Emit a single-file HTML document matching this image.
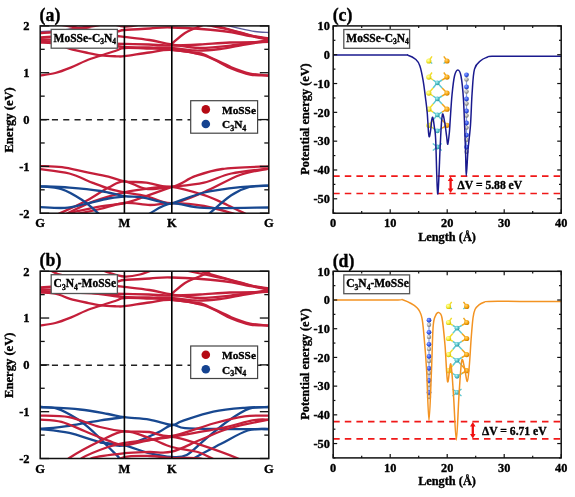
<!DOCTYPE html><html><head><meta charset="utf-8"><style>html,body{margin:0;padding:0;background:#fff;width:575px;height:497px;overflow:hidden}svg{display:block;will-change:transform}</style></head><body><svg width="575" height="497" viewBox="0 0 575 497">
<rect width="575" height="497" fill="#fff"/>
<defs>
<radialGradient id="gY" cx="0.38" cy="0.35" r="0.7"><stop offset="0" stop-color="#ffffb0"/><stop offset="0.55" stop-color="#f5ec38"/><stop offset="1" stop-color="#c8b800"/></radialGradient>
<radialGradient id="gO" cx="0.38" cy="0.35" r="0.7"><stop offset="0" stop-color="#ffd070"/><stop offset="0.55" stop-color="#f8a810"/><stop offset="1" stop-color="#c07400"/></radialGradient>
<radialGradient id="gT" cx="0.38" cy="0.35" r="0.7"><stop offset="0" stop-color="#b0f0f4"/><stop offset="0.55" stop-color="#50c0c8"/><stop offset="1" stop-color="#2a8a94"/></radialGradient>
<radialGradient id="gB" cx="0.38" cy="0.35" r="0.7"><stop offset="0" stop-color="#90a8ff"/><stop offset="0.55" stop-color="#3a5cf0"/><stop offset="1" stop-color="#1a30a0"/></radialGradient>
<radialGradient id="gC" cx="0.38" cy="0.35" r="0.7"><stop offset="0" stop-color="#f0f0f0"/><stop offset="0.55" stop-color="#a8a8a8"/><stop offset="1" stop-color="#6a6a6a"/></radialGradient>
</defs>
<clipPath id="p25"><rect x="40.2" y="25.9" width="228.6" height="187.3"/></clipPath>
<g clip-path="url(#p25)" fill="none" stroke-linecap="round">
<path d="M40.20,31.60 C43.50,31.42 53.37,31.18 60.00,30.50 C66.63,29.82 74.17,28.58 80.00,27.50 C85.83,26.42 90.83,25.25 95.00,24.00 C99.17,22.75 103.33,20.67 105.00,20.00" stroke="#5a5a9a" stroke-width="1.4"/>
<path d="M215.00,20.00 C216.17,20.67 217.83,22.58 222.00,24.00 C226.17,25.42 234.50,27.25 240.00,28.50 C245.50,29.75 250.20,30.83 255.00,31.50 C259.80,32.17 266.50,32.33 268.80,32.50" stroke="#5a5a9a" stroke-width="1.4"/>
<path d="M40.20,75.50 C42.72,75.08 50.23,74.32 55.30,73.00 C60.37,71.68 65.50,69.65 70.60,67.60 C75.70,65.55 80.80,62.73 85.90,60.70 C91.00,58.67 96.10,57.10 101.20,55.40 C106.30,53.70 112.63,51.73 116.50,50.50 C120.37,49.27 118.98,48.33 124.40,48.00 C129.82,47.67 141.10,48.25 149.00,48.50 C156.90,48.75 164.13,48.75 171.80,49.50 C179.47,50.25 189.60,52.15 195.00,53.00 C200.40,53.85 198.15,52.23 204.20,54.60 C210.25,56.97 223.67,64.05 231.30,67.20 C238.93,70.35 243.75,72.08 250.00,73.50 C256.25,74.92 265.67,75.33 268.80,75.70" stroke="#c41f3a" stroke-width="2.3"/>
<path d="M40.20,42.50 C42.17,42.58 48.70,42.58 52.00,43.00 C55.30,43.42 57.00,44.03 60.00,45.00 C63.00,45.97 65.68,47.55 70.00,48.80 C74.32,50.05 80.70,51.40 85.90,52.50 C91.10,53.60 96.10,54.77 101.20,55.40 C106.30,56.03 112.63,56.17 116.50,56.30 C120.37,56.43 118.93,56.83 124.40,56.20 C129.87,55.57 141.40,53.53 149.30,52.50 C157.20,51.47 162.65,49.50 171.80,50.00 C180.95,50.50 194.28,52.42 204.20,55.50 C214.12,58.58 223.67,65.33 231.30,68.50 C238.93,71.67 243.75,73.33 250.00,74.50 C256.25,75.67 265.67,75.33 268.80,75.50" stroke="#c41f3a" stroke-width="2.3"/>
<path d="M40.20,41.00 C45.17,41.25 60.03,42.08 70.00,42.50 C79.97,42.92 90.93,43.27 100.00,43.50 C109.07,43.73 116.23,43.73 124.40,43.90 C132.57,44.07 141.10,44.23 149.00,44.50 C156.90,44.77 163.30,45.50 171.80,45.50 C180.30,45.50 190.30,45.00 200.00,44.50 C209.70,44.00 218.53,42.93 230.00,42.50 C241.47,42.07 262.33,42.00 268.80,41.90" stroke="#c41f3a" stroke-width="2.3"/>
<path d="M40.20,39.20 C45.17,39.42 60.03,39.70 70.00,40.50 C79.97,41.30 90.93,42.92 100.00,44.00 C109.07,45.08 116.23,46.42 124.40,47.00 C132.57,47.58 141.10,47.37 149.00,47.50 C156.90,47.63 164.13,47.30 171.80,47.80 C179.47,48.30 186.97,50.30 195.00,50.50 C203.03,50.70 211.67,50.00 220.00,49.00 C228.33,48.00 236.87,45.83 245.00,44.50 C253.13,43.17 264.83,41.58 268.80,41.00" stroke="#c41f3a" stroke-width="2.3"/>
<path d="M40.20,37.40 C45.17,37.08 60.03,36.23 70.00,35.50 C79.97,34.77 92.17,33.67 100.00,33.00 C107.83,32.33 112.93,32.00 117.00,31.50 C121.07,31.00 118.90,30.50 124.40,30.00 C129.90,29.50 142.10,28.92 150.00,28.50 C157.90,28.08 159.75,27.08 171.80,27.50 C183.85,27.92 209.27,29.58 222.30,31.00 C235.33,32.42 242.25,34.58 250.00,36.00 C257.75,37.42 265.67,38.92 268.80,39.50" stroke="#c41f3a" stroke-width="2.3"/>
<path d="M45.00,17.00 C47.17,18.17 52.17,22.17 58.00,24.00 C63.83,25.83 72.17,26.50 80.00,28.00 C87.83,29.50 98.83,31.67 105.00,33.00 C111.17,34.33 113.77,35.35 117.00,36.00 C120.23,36.65 119.02,36.23 124.40,36.90 C129.78,37.57 141.40,38.73 149.30,40.00 C157.20,41.27 163.35,43.17 171.80,44.50 C180.25,45.83 189.47,47.92 200.00,48.00 C210.53,48.08 223.53,46.33 235.00,45.00 C246.47,43.67 263.17,40.83 268.80,40.00" stroke="#c41f3a" stroke-width="2.3"/>
<path d="M40.20,33.00 C43.50,32.75 53.37,32.33 60.00,31.50 C66.63,30.67 73.33,29.08 80.00,28.00 C86.67,26.92 94.67,26.50 100.00,25.00 C105.33,23.50 110.00,20.00 112.00,19.00" stroke="#c41f3a" stroke-width="2.3"/>
<path d="M171.80,43.70 C174.00,41.92 181.12,35.57 185.00,33.00 C188.88,30.43 191.77,29.80 195.10,28.30 C198.43,26.80 202.18,25.38 205.00,24.00 C207.82,22.62 210.83,20.67 212.00,20.00" stroke="#c41f3a" stroke-width="2.3"/>
<path d="M175.00,18.00 C179.17,18.92 190.83,21.50 200.00,23.50 C209.17,25.50 221.67,28.00 230.00,30.00 C238.33,32.00 243.53,34.08 250.00,35.50 C256.47,36.92 265.67,38.00 268.80,38.50" stroke="#c41f3a" stroke-width="2.3"/>
<path d="M190.00,18.00 C193.33,19.00 202.50,21.83 210.00,24.00 C217.50,26.17 227.50,28.92 235.00,31.00 C242.50,33.08 249.37,35.17 255.00,36.50 C260.63,37.83 266.50,38.58 268.80,39.00" stroke="#c41f3a" stroke-width="2.3"/>
<path d="M95.00,17.00 C97.50,18.00 105.10,21.42 110.00,23.00 C114.90,24.58 119.40,26.25 124.40,26.50 C129.40,26.75 134.90,25.75 140.00,24.50 C145.10,23.25 152.50,19.92 155.00,19.00" stroke="#c41f3a" stroke-width="2.3"/>
<path d="M40.20,166.10 C43.83,166.28 54.53,166.23 62.00,167.20 C69.47,168.17 77.27,170.33 85.00,171.90 C92.73,173.47 101.83,175.03 108.40,176.60 C114.97,178.17 118.10,180.30 124.40,181.30 C130.70,182.30 138.30,181.68 146.20,182.60 C154.10,183.52 163.65,187.87 171.80,186.80 C179.95,185.73 186.68,179.17 195.10,176.20 C203.52,173.23 210.02,170.65 222.30,169.00 C234.58,167.35 261.05,166.75 268.80,166.30" stroke="#c41f3a" stroke-width="2.3"/>
<path d="M40.20,169.10 C45.05,169.83 60.53,171.20 69.30,173.50 C78.07,175.80 86.02,180.30 92.80,182.90 C99.58,185.50 104.73,187.53 110.00,189.10 C115.27,190.67 118.37,191.15 124.40,192.30 C130.43,193.45 138.30,194.18 146.20,196.00 C154.10,197.82 162.13,203.87 171.80,203.20 C181.47,202.53 192.83,196.70 204.20,192.00 C215.57,187.30 229.23,178.90 240.00,175.00 C250.77,171.10 264.00,169.67 268.80,168.60" stroke="#c41f3a" stroke-width="2.3"/>
<path d="M58.30,214.00 C62.75,211.93 76.65,206.00 85.00,201.60 C93.35,197.20 101.83,190.98 108.40,187.60 C114.97,184.22 118.10,181.10 124.40,181.30 C130.70,181.50 138.30,187.88 146.20,188.80 C154.10,189.72 162.17,187.83 171.80,186.80 C181.43,185.77 194.08,184.82 204.00,182.60 C213.92,180.38 220.50,175.83 231.30,173.50 C242.10,171.17 262.55,169.42 268.80,168.60" stroke="#c41f3a" stroke-width="2.3"/>
<path d="M66.20,214.00 C70.63,211.93 83.10,205.22 92.80,201.60 C102.50,197.98 115.50,194.43 124.40,192.30 C133.30,190.17 138.30,189.72 146.20,188.80 C154.10,187.88 162.13,185.73 171.80,186.80 C181.47,187.87 194.88,192.13 204.20,195.20 C213.52,198.27 220.77,202.07 227.70,205.20 C234.63,208.33 242.78,212.53 245.80,214.00" stroke="#c41f3a" stroke-width="2.3"/>
<path d="M69.30,213.00 C74.52,211.88 91.42,207.93 100.60,206.30 C109.78,204.67 116.80,204.92 124.40,203.20 C132.00,201.48 138.30,198.73 146.20,196.00 C154.10,193.27 167.53,188.33 171.80,186.80" stroke="#c41f3a" stroke-width="2.3"/>
<path d="M77.00,214.00 C80.83,213.17 92.10,210.83 100.00,209.00 C107.90,207.17 116.07,203.67 124.40,203.00 C132.73,202.33 142.10,204.97 150.00,205.00 C157.90,205.03 162.80,203.03 171.80,203.20 C180.80,203.37 193.47,204.20 204.00,206.00 C214.53,207.80 229.83,212.67 235.00,214.00" stroke="#c41f3a" stroke-width="2.3"/>
<path d="M40.20,186.30 C45.05,186.52 59.23,186.82 69.30,187.60 C79.37,188.38 91.42,189.57 100.60,191.00 C109.78,192.43 117.73,195.17 124.40,196.20 C131.07,197.23 134.15,196.18 140.60,197.20 C147.05,198.22 157.90,201.27 163.10,202.30 C168.30,203.33 164.95,205.03 171.80,203.40 C178.65,201.77 192.78,195.22 204.20,192.50 C215.62,189.78 229.53,188.25 240.30,187.10 C251.07,185.95 264.05,185.85 268.80,185.60" stroke="#184890" stroke-width="2.3"/>
<path d="M40.20,186.30 C43.75,186.77 54.57,186.85 61.50,189.10 C68.43,191.35 75.80,195.88 81.80,199.80 C87.80,203.72 94.13,209.57 97.50,212.60 C100.87,215.63 101.25,217.10 102.00,218.00" stroke="#184890" stroke-width="2.3"/>
<path d="M40.20,207.10 C44.33,207.23 57.53,208.42 65.00,207.90 C72.47,207.38 77.77,205.57 85.00,204.00 C92.23,202.43 101.83,199.73 108.40,198.50 C114.97,197.27 121.73,196.92 124.40,196.60" stroke="#184890" stroke-width="2.3"/>
<path d="M145.00,218.00 C145.95,217.17 146.23,215.43 150.70,213.00 C155.17,210.57 162.88,204.25 171.80,203.40 C180.72,202.55 188.03,207.22 204.20,207.90 C220.37,208.58 258.03,207.57 268.80,207.50" stroke="#184890" stroke-width="2.3"/>
<path d="M205.00,218.00 C205.77,217.22 205.22,217.10 209.60,213.30 C213.98,209.50 224.67,199.58 231.30,195.20 C237.93,190.82 243.15,188.60 249.40,187.00 C255.65,185.40 265.57,185.83 268.80,185.60" stroke="#184890" stroke-width="2.3"/>
</g>
<line x1="40.6" y1="119.86" x2="268.8" y2="119.86" stroke="#222" stroke-width="1.5" stroke-dasharray="6.1,5.2"/>
<line x1="124.4" y1="25.9" x2="124.4" y2="213.2" stroke="#000" stroke-width="1.6"/>
<line x1="171.8" y1="25.9" x2="171.8" y2="213.2" stroke="#000" stroke-width="1.6"/>
<line x1="40.2" y1="25.90" x2="49.2" y2="25.90" stroke="#111" stroke-width="1.3"/>
<line x1="259.8" y1="25.90" x2="268.8" y2="25.90" stroke="#111" stroke-width="1.3"/>
<line x1="40.2" y1="49.31" x2="44.7" y2="49.31" stroke="#111" stroke-width="1.3"/>
<line x1="264.3" y1="49.31" x2="268.8" y2="49.31" stroke="#111" stroke-width="1.3"/>
<line x1="40.2" y1="72.73" x2="49.2" y2="72.73" stroke="#111" stroke-width="1.3"/>
<line x1="259.8" y1="72.73" x2="268.8" y2="72.73" stroke="#111" stroke-width="1.3"/>
<line x1="40.2" y1="96.15" x2="44.7" y2="96.15" stroke="#111" stroke-width="1.3"/>
<line x1="264.3" y1="96.15" x2="268.8" y2="96.15" stroke="#111" stroke-width="1.3"/>
<line x1="40.2" y1="119.56" x2="49.2" y2="119.56" stroke="#111" stroke-width="1.3"/>
<line x1="259.8" y1="119.56" x2="268.8" y2="119.56" stroke="#111" stroke-width="1.3"/>
<line x1="40.2" y1="142.97" x2="44.7" y2="142.97" stroke="#111" stroke-width="1.3"/>
<line x1="264.3" y1="142.97" x2="268.8" y2="142.97" stroke="#111" stroke-width="1.3"/>
<line x1="40.2" y1="166.39" x2="49.2" y2="166.39" stroke="#111" stroke-width="1.3"/>
<line x1="259.8" y1="166.39" x2="268.8" y2="166.39" stroke="#111" stroke-width="1.3"/>
<line x1="40.2" y1="189.81" x2="44.7" y2="189.81" stroke="#111" stroke-width="1.3"/>
<line x1="264.3" y1="189.81" x2="268.8" y2="189.81" stroke="#111" stroke-width="1.3"/>
<line x1="40.2" y1="213.22" x2="49.2" y2="213.22" stroke="#111" stroke-width="1.3"/>
<line x1="259.8" y1="213.22" x2="268.8" y2="213.22" stroke="#111" stroke-width="1.3"/>
<rect x="40.2" y="25.9" width="228.6" height="187.3" fill="none" stroke="#111" stroke-width="1.5"/>
<text x="29.6" y="30.30" font-family="Liberation Serif" font-weight="bold" stroke="#000" stroke-width="0.35" font-size="12.5" text-anchor="end">2</text>
<text x="29.6" y="77.13" font-family="Liberation Serif" font-weight="bold" stroke="#000" stroke-width="0.35" font-size="12.5" text-anchor="end">1</text>
<text x="29.6" y="123.96" font-family="Liberation Serif" font-weight="bold" stroke="#000" stroke-width="0.35" font-size="12.5" text-anchor="end">0</text>
<text x="29.6" y="170.79" font-family="Liberation Serif" font-weight="bold" stroke="#000" stroke-width="0.35" font-size="12.5" text-anchor="end">-1</text>
<text x="29.6" y="217.62" font-family="Liberation Serif" font-weight="bold" stroke="#000" stroke-width="0.35" font-size="12.5" text-anchor="end">-2</text>
<text x="40.2" y="227.4" font-family="Liberation Serif" font-weight="bold" stroke="#000" stroke-width="0.35" font-size="12.5" text-anchor="middle">G</text>
<text x="124.4" y="227.4" font-family="Liberation Serif" font-weight="bold" stroke="#000" stroke-width="0.35" font-size="12.5" text-anchor="middle">M</text>
<text x="171.8" y="227.4" font-family="Liberation Serif" font-weight="bold" stroke="#000" stroke-width="0.35" font-size="12.5" text-anchor="middle">K</text>
<text x="268.8" y="227.4" font-family="Liberation Serif" font-weight="bold" stroke="#000" stroke-width="0.35" font-size="12.5" text-anchor="middle">G</text>
<text x="39.6" y="20.9" font-family="Liberation Serif" font-weight="bold" stroke="#000" stroke-width="0.35" font-size="17.8">(a)</text>
<text transform="translate(12.6,119.9) rotate(-90)" font-family="Liberation Serif" font-weight="bold" stroke="#000" stroke-width="0.35" font-size="12.6" text-anchor="middle">Energy (eV)</text>
<rect x="51.2" y="29.4" width="66.2" height="18.8" fill="#fff" stroke="#555" stroke-width="1.3"/>
<text x="53.6" y="41.7" font-family="Liberation Serif" font-weight="bold" stroke="#000" stroke-width="0.35" font-size="11.5">MoSSe-C<tspan font-size="7.5" dy="2.6">3</tspan><tspan dy="-2.6">N</tspan><tspan font-size="7.5" dy="2.6">4</tspan></text>
<rect x="190.7" y="100.7" width="66.9" height="32.5" fill="#fff" stroke="#444" stroke-width="1.2"/>
<circle cx="205.8" cy="109.4" r="4.3" fill="#b50a14"/>
<circle cx="205.8" cy="124.0" r="4.3" fill="#154390"/>
<text x="222" y="113.5" font-family="Liberation Serif" font-weight="bold" stroke="#000" stroke-width="0.35" font-size="11.3">MoSSe</text>
<text x="222" y="128.3" font-family="Liberation Serif" font-weight="bold" stroke="#000" stroke-width="0.35" font-size="11.3">C<tspan font-size="8" dy="2.5">3</tspan><tspan dy="-2.5">N</tspan><tspan font-size="8" dy="2.5">4</tspan></text>
<clipPath id="p271"><rect x="40.2" y="271.2" width="228.6" height="187.3"/></clipPath>
<g clip-path="url(#p271)" fill="none" stroke-linecap="round">
<path d="M40.20,325.50 C42.72,325.08 50.23,324.32 55.30,323.00 C60.37,321.68 65.50,319.65 70.60,317.60 C75.70,315.55 80.80,312.73 85.90,310.70 C91.00,308.67 96.10,307.10 101.20,305.40 C106.30,303.70 112.63,301.73 116.50,300.50 C120.37,299.27 118.98,298.33 124.40,298.00 C129.82,297.67 141.10,298.25 149.00,298.50 C156.90,298.75 164.13,298.75 171.80,299.50 C179.47,300.25 189.60,302.15 195.00,303.00 C200.40,303.85 198.15,302.23 204.20,304.60 C210.25,306.97 223.67,314.05 231.30,317.20 C238.93,320.35 243.75,322.08 250.00,323.50 C256.25,324.92 265.67,325.33 268.80,325.70" stroke="#c41f3a" stroke-width="2.3"/>
<path d="M40.20,292.50 C42.17,292.58 48.70,292.58 52.00,293.00 C55.30,293.42 57.00,294.03 60.00,295.00 C63.00,295.97 65.68,297.55 70.00,298.80 C74.32,300.05 80.70,301.40 85.90,302.50 C91.10,303.60 96.10,304.77 101.20,305.40 C106.30,306.03 112.63,306.17 116.50,306.30 C120.37,306.43 118.93,306.83 124.40,306.20 C129.87,305.57 141.40,303.53 149.30,302.50 C157.20,301.47 162.65,299.50 171.80,300.00 C180.95,300.50 194.28,302.42 204.20,305.50 C214.12,308.58 223.67,315.33 231.30,318.50 C238.93,321.67 243.75,323.33 250.00,324.50 C256.25,325.67 265.67,325.33 268.80,325.50" stroke="#c41f3a" stroke-width="2.3"/>
<path d="M40.20,291.00 C45.17,291.25 60.03,292.08 70.00,292.50 C79.97,292.92 90.93,293.27 100.00,293.50 C109.07,293.73 116.23,293.73 124.40,293.90 C132.57,294.07 141.10,294.23 149.00,294.50 C156.90,294.77 163.30,295.50 171.80,295.50 C180.30,295.50 190.30,295.00 200.00,294.50 C209.70,294.00 218.53,292.93 230.00,292.50 C241.47,292.07 262.33,292.00 268.80,291.90" stroke="#c41f3a" stroke-width="2.3"/>
<path d="M40.20,289.20 C45.17,289.42 60.03,289.70 70.00,290.50 C79.97,291.30 90.93,292.92 100.00,294.00 C109.07,295.08 116.23,296.42 124.40,297.00 C132.57,297.58 141.10,297.37 149.00,297.50 C156.90,297.63 164.13,297.30 171.80,297.80 C179.47,298.30 186.97,300.30 195.00,300.50 C203.03,300.70 211.67,300.00 220.00,299.00 C228.33,298.00 236.87,295.83 245.00,294.50 C253.13,293.17 264.83,291.58 268.80,291.00" stroke="#c41f3a" stroke-width="2.3"/>
<path d="M40.20,287.40 C45.17,287.08 60.03,286.23 70.00,285.50 C79.97,284.77 92.17,283.67 100.00,283.00 C107.83,282.33 112.93,282.00 117.00,281.50 C121.07,281.00 118.90,280.50 124.40,280.00 C129.90,279.50 142.10,278.92 150.00,278.50 C157.90,278.08 159.75,277.08 171.80,277.50 C183.85,277.92 209.27,279.58 222.30,281.00 C235.33,282.42 242.25,284.58 250.00,286.00 C257.75,287.42 265.67,288.92 268.80,289.50" stroke="#c41f3a" stroke-width="2.3"/>
<path d="M45.00,267.00 C47.17,268.17 52.17,272.17 58.00,274.00 C63.83,275.83 72.17,276.50 80.00,278.00 C87.83,279.50 98.83,281.67 105.00,283.00 C111.17,284.33 113.77,285.35 117.00,286.00 C120.23,286.65 119.02,286.23 124.40,286.90 C129.78,287.57 141.40,288.73 149.30,290.00 C157.20,291.27 163.35,293.17 171.80,294.50 C180.25,295.83 189.47,297.92 200.00,298.00 C210.53,298.08 223.53,296.33 235.00,295.00 C246.47,293.67 263.17,290.83 268.80,290.00" stroke="#c41f3a" stroke-width="2.3"/>
<path d="M171.80,293.70 C174.00,291.92 181.12,285.57 185.00,283.00 C188.88,280.43 191.77,279.80 195.10,278.30 C198.43,276.80 202.18,275.38 205.00,274.00 C207.82,272.62 210.83,270.67 212.00,270.00" stroke="#c41f3a" stroke-width="2.3"/>
<path d="M175.00,268.00 C179.17,268.92 190.83,271.50 200.00,273.50 C209.17,275.50 221.67,278.00 230.00,280.00 C238.33,282.00 243.53,284.08 250.00,285.50 C256.47,286.92 265.67,288.00 268.80,288.50" stroke="#c41f3a" stroke-width="2.3"/>
<path d="M190.00,268.00 C193.33,269.00 202.50,271.83 210.00,274.00 C217.50,276.17 227.50,278.92 235.00,281.00 C242.50,283.08 249.37,285.17 255.00,286.50 C260.63,287.83 266.50,288.58 268.80,289.00" stroke="#c41f3a" stroke-width="2.3"/>
<path d="M95.00,267.00 C97.50,268.00 105.10,271.42 110.00,273.00 C114.90,274.58 119.40,276.25 124.40,276.50 C129.40,276.75 134.90,275.75 140.00,274.50 C145.10,273.25 152.50,269.92 155.00,269.00" stroke="#c41f3a" stroke-width="2.3"/>
<path d="M40.20,407.00 C46.83,407.42 68.70,408.33 80.00,409.50 C91.30,410.67 100.60,412.72 108.00,414.00 C115.40,415.28 117.52,416.27 124.40,417.20 C131.28,418.13 141.40,418.30 149.30,419.60 C157.20,420.90 166.35,424.75 171.80,425.00 C177.25,425.25 175.08,423.32 182.00,421.10 C188.92,418.88 202.87,413.92 213.30,411.70 C223.73,409.48 235.35,408.58 244.60,407.80 C253.85,407.02 264.77,407.13 268.80,407.00" stroke="#184890" stroke-width="2.3"/>
<path d="M40.20,407.00 C43.00,407.27 50.87,406.63 57.00,408.60 C63.13,410.57 71.03,415.02 77.00,418.80 C82.97,422.58 87.57,426.60 92.80,431.30 C98.03,436.00 103.97,442.55 108.40,447.00 C112.83,451.45 117.13,455.50 119.40,458.00 C121.67,460.50 121.57,461.33 122.00,462.00" stroke="#184890" stroke-width="2.3"/>
<path d="M40.20,429.00 C45.05,428.47 59.23,427.25 69.30,425.80 C79.37,424.35 91.42,421.73 100.60,420.30 C109.78,418.87 120.43,417.72 124.40,417.20" stroke="#184890" stroke-width="2.3"/>
<path d="M40.20,429.00 C45.05,429.65 59.23,430.68 69.30,432.90 C79.37,435.12 91.42,440.22 100.60,442.30 C109.78,444.38 114.98,446.97 124.40,445.40 C133.82,443.83 149.20,436.30 157.10,432.90 C165.00,429.50 167.15,425.78 171.80,425.00 C176.45,424.22 176.97,427.53 185.00,428.20 C193.03,428.87 206.03,428.87 220.00,429.00 C233.97,429.13 260.67,429.00 268.80,429.00" stroke="#184890" stroke-width="2.3"/>
<path d="M100.60,442.30 C104.57,442.82 116.28,443.58 124.40,445.40 C132.52,447.22 141.40,451.27 149.30,453.20 C157.20,455.13 165.57,456.70 171.80,457.00 C178.03,457.30 181.08,457.98 186.70,455.00 C192.32,452.02 198.45,444.88 205.50,439.10 C212.55,433.32 221.70,425.38 229.00,420.30 C236.30,415.22 242.67,410.82 249.30,408.60 C255.93,406.38 265.55,407.27 268.80,407.00" stroke="#184890" stroke-width="2.3"/>
<path d="M188.00,466.00 C189.08,464.67 188.98,461.70 194.50,458.00 C200.02,454.30 212.23,448.38 221.10,443.80 C229.97,439.22 239.75,432.97 247.70,430.50 C255.65,428.03 265.28,429.25 268.80,429.00" stroke="#184890" stroke-width="2.3"/>
<path d="M40.20,415.60 C45.00,415.87 59.03,415.30 69.00,417.20 C78.97,419.10 90.77,424.65 100.00,427.00 C109.23,429.35 116.18,430.47 124.40,431.30 C132.62,432.13 141.40,431.22 149.30,432.00 C157.20,432.78 161.13,437.42 171.80,436.00 C182.47,434.58 201.17,426.77 213.30,423.50 C225.43,420.23 235.35,417.72 244.60,416.40 C253.85,415.08 264.77,415.73 268.80,415.60" stroke="#c41f3a" stroke-width="2.3"/>
<path d="M40.20,419.60 C43.75,419.98 54.03,419.95 61.50,421.90 C68.97,423.85 77.18,428.17 85.00,431.30 C92.82,434.43 101.83,438.42 108.40,440.70 C114.97,442.98 117.47,445.12 124.40,445.00 C131.33,444.88 142.10,441.37 150.00,440.00 C157.90,438.63 159.95,438.77 171.80,436.80 C183.65,434.83 207.67,430.95 221.10,428.20 C234.53,425.45 244.45,421.73 252.40,420.30 C260.35,418.87 266.07,419.72 268.80,419.60" stroke="#c41f3a" stroke-width="2.3"/>
<path d="M64.00,466.00 C64.88,464.67 63.20,462.22 69.30,458.00 C75.40,453.78 91.42,445.15 100.60,440.70 C109.78,436.25 116.28,431.75 124.40,431.30 C132.52,430.85 141.40,435.38 149.30,438.00 C157.20,440.62 163.73,444.67 171.80,447.00 C179.87,449.33 190.50,449.83 197.70,452.00 C204.90,454.17 212.12,458.67 215.00,460.00" stroke="#c41f3a" stroke-width="2.3"/>
<path d="M76.00,466.00 C77.00,464.67 76.67,461.17 82.00,458.00 C87.33,454.83 100.93,449.50 108.00,447.00 C115.07,444.50 117.52,444.17 124.40,443.00 C131.28,441.83 141.40,441.03 149.30,440.00 C157.20,438.97 163.73,436.17 171.80,436.80 C179.87,437.43 186.87,440.27 197.70,443.80 C208.53,447.33 229.75,454.97 236.80,458.00 C243.85,461.03 239.47,461.33 240.00,462.00" stroke="#c41f3a" stroke-width="2.3"/>
<path d="M85.00,466.00 C86.17,464.67 85.43,460.13 92.00,458.00 C98.57,455.87 114.90,454.20 124.40,453.20 C133.90,452.20 141.10,452.25 149.00,452.00 C156.90,451.75 163.30,453.70 171.80,451.70 C180.30,449.70 190.30,443.95 200.00,440.00 C209.70,436.05 218.53,431.40 230.00,428.00 C241.47,424.60 262.33,421.00 268.80,419.60" stroke="#c41f3a" stroke-width="2.3"/>
<path d="M105.00,466.00 C108.23,464.50 116.90,458.67 124.40,457.00 C131.90,455.33 142.10,455.83 150.00,456.00 C157.90,456.17 163.47,457.58 171.80,458.00 C180.13,458.42 191.97,457.17 200.00,458.50 C208.03,459.83 216.67,464.75 220.00,466.00" stroke="#c41f3a" stroke-width="2.3"/>
</g>
<line x1="40.6" y1="365.16" x2="268.8" y2="365.16" stroke="#222" stroke-width="1.5" stroke-dasharray="6.1,5.2"/>
<line x1="124.4" y1="271.2" x2="124.4" y2="458.5" stroke="#000" stroke-width="1.6"/>
<line x1="171.8" y1="271.2" x2="171.8" y2="458.5" stroke="#000" stroke-width="1.6"/>
<line x1="40.2" y1="271.20" x2="49.2" y2="271.20" stroke="#111" stroke-width="1.3"/>
<line x1="259.8" y1="271.20" x2="268.8" y2="271.20" stroke="#111" stroke-width="1.3"/>
<line x1="40.2" y1="294.62" x2="44.7" y2="294.62" stroke="#111" stroke-width="1.3"/>
<line x1="264.3" y1="294.62" x2="268.8" y2="294.62" stroke="#111" stroke-width="1.3"/>
<line x1="40.2" y1="318.03" x2="49.2" y2="318.03" stroke="#111" stroke-width="1.3"/>
<line x1="259.8" y1="318.03" x2="268.8" y2="318.03" stroke="#111" stroke-width="1.3"/>
<line x1="40.2" y1="341.44" x2="44.7" y2="341.44" stroke="#111" stroke-width="1.3"/>
<line x1="264.3" y1="341.44" x2="268.8" y2="341.44" stroke="#111" stroke-width="1.3"/>
<line x1="40.2" y1="364.86" x2="49.2" y2="364.86" stroke="#111" stroke-width="1.3"/>
<line x1="259.8" y1="364.86" x2="268.8" y2="364.86" stroke="#111" stroke-width="1.3"/>
<line x1="40.2" y1="388.27" x2="44.7" y2="388.27" stroke="#111" stroke-width="1.3"/>
<line x1="264.3" y1="388.27" x2="268.8" y2="388.27" stroke="#111" stroke-width="1.3"/>
<line x1="40.2" y1="411.69" x2="49.2" y2="411.69" stroke="#111" stroke-width="1.3"/>
<line x1="259.8" y1="411.69" x2="268.8" y2="411.69" stroke="#111" stroke-width="1.3"/>
<line x1="40.2" y1="435.11" x2="44.7" y2="435.11" stroke="#111" stroke-width="1.3"/>
<line x1="264.3" y1="435.11" x2="268.8" y2="435.11" stroke="#111" stroke-width="1.3"/>
<line x1="40.2" y1="458.52" x2="49.2" y2="458.52" stroke="#111" stroke-width="1.3"/>
<line x1="259.8" y1="458.52" x2="268.8" y2="458.52" stroke="#111" stroke-width="1.3"/>
<rect x="40.2" y="271.2" width="228.6" height="187.3" fill="none" stroke="#111" stroke-width="1.5"/>
<text x="29.6" y="275.60" font-family="Liberation Serif" font-weight="bold" stroke="#000" stroke-width="0.35" font-size="12.5" text-anchor="end">2</text>
<text x="29.6" y="322.43" font-family="Liberation Serif" font-weight="bold" stroke="#000" stroke-width="0.35" font-size="12.5" text-anchor="end">1</text>
<text x="29.6" y="369.26" font-family="Liberation Serif" font-weight="bold" stroke="#000" stroke-width="0.35" font-size="12.5" text-anchor="end">0</text>
<text x="29.6" y="416.09" font-family="Liberation Serif" font-weight="bold" stroke="#000" stroke-width="0.35" font-size="12.5" text-anchor="end">-1</text>
<text x="29.6" y="462.92" font-family="Liberation Serif" font-weight="bold" stroke="#000" stroke-width="0.35" font-size="12.5" text-anchor="end">-2</text>
<text x="40.2" y="472.7" font-family="Liberation Serif" font-weight="bold" stroke="#000" stroke-width="0.35" font-size="12.5" text-anchor="middle">G</text>
<text x="124.4" y="472.7" font-family="Liberation Serif" font-weight="bold" stroke="#000" stroke-width="0.35" font-size="12.5" text-anchor="middle">M</text>
<text x="171.8" y="472.7" font-family="Liberation Serif" font-weight="bold" stroke="#000" stroke-width="0.35" font-size="12.5" text-anchor="middle">K</text>
<text x="268.8" y="472.7" font-family="Liberation Serif" font-weight="bold" stroke="#000" stroke-width="0.35" font-size="12.5" text-anchor="middle">G</text>
<text x="39.6" y="266.2" font-family="Liberation Serif" font-weight="bold" stroke="#000" stroke-width="0.35" font-size="17.8">(b)</text>
<text transform="translate(12.6,365.2) rotate(-90)" font-family="Liberation Serif" font-weight="bold" stroke="#000" stroke-width="0.35" font-size="12.6" text-anchor="middle">Energy (eV)</text>
<rect x="51.2" y="274.7" width="66.2" height="18.8" fill="#fff" stroke="#555" stroke-width="1.3"/>
<text x="53.6" y="287.0" font-family="Liberation Serif" font-weight="bold" stroke="#000" stroke-width="0.35" font-size="11.5">C<tspan font-size="7.5" dy="2.6">3</tspan><tspan dy="-2.6">N</tspan><tspan font-size="7.5" dy="2.6">4</tspan><tspan dy="-2.6">-MoSSe</tspan></text>
<rect x="190.7" y="346.0" width="66.9" height="32.5" fill="#fff" stroke="#444" stroke-width="1.2"/>
<circle cx="205.8" cy="354.7" r="4.3" fill="#b50a14"/>
<circle cx="205.8" cy="369.3" r="4.3" fill="#154390"/>
<text x="222" y="358.8" font-family="Liberation Serif" font-weight="bold" stroke="#000" stroke-width="0.35" font-size="11.3">MoSSe</text>
<text x="222" y="373.6" font-family="Liberation Serif" font-weight="bold" stroke="#000" stroke-width="0.35" font-size="11.3">C<tspan font-size="8" dy="2.5">3</tspan><tspan dy="-2.5">N</tspan><tspan font-size="8" dy="2.5">4</tspan></text>
<line x1="333.2" y1="176.20" x2="561.2" y2="176.20" stroke="#f01818" stroke-width="1.7" stroke-dasharray="6.5,5.1"/>
<line x1="333.2" y1="193.50" x2="561.2" y2="193.50" stroke="#f01818" stroke-width="1.7" stroke-dasharray="6.5,5.1"/>
<line x1="437.3" y1="82.8" x2="433.1" y2="80.0" stroke="#5cc8d0" stroke-width="1.5"/><line x1="433.1" y1="80.0" x2="428.8" y2="77.1" stroke="#f2dc2a" stroke-width="1.5"/><line x1="437.3" y1="82.8" x2="442.1" y2="80.0" stroke="#5cc8d0" stroke-width="1.5"/><line x1="442.1" y1="80.0" x2="447.0" y2="77.1" stroke="#f0a418" stroke-width="1.5"/><line x1="437.3" y1="82.8" x2="433.1" y2="88.0" stroke="#5cc8d0" stroke-width="1.5"/><line x1="433.1" y1="88.0" x2="428.8" y2="93.1" stroke="#f2dc2a" stroke-width="1.5"/><line x1="437.3" y1="82.8" x2="442.1" y2="88.0" stroke="#5cc8d0" stroke-width="1.5"/><line x1="442.1" y1="88.0" x2="447.0" y2="93.1" stroke="#f0a418" stroke-width="1.5"/><line x1="437.3" y1="98.9" x2="433.1" y2="96.0" stroke="#5cc8d0" stroke-width="1.5"/><line x1="433.1" y1="96.0" x2="428.8" y2="93.1" stroke="#f2dc2a" stroke-width="1.5"/><line x1="437.3" y1="98.9" x2="442.1" y2="96.0" stroke="#5cc8d0" stroke-width="1.5"/><line x1="442.1" y1="96.0" x2="447.0" y2="93.1" stroke="#f0a418" stroke-width="1.5"/><line x1="437.3" y1="98.9" x2="433.1" y2="104.1" stroke="#5cc8d0" stroke-width="1.5"/><line x1="433.1" y1="104.1" x2="428.8" y2="109.2" stroke="#f2dc2a" stroke-width="1.5"/><line x1="437.3" y1="98.9" x2="442.1" y2="104.1" stroke="#5cc8d0" stroke-width="1.5"/><line x1="442.1" y1="104.1" x2="447.0" y2="109.2" stroke="#f0a418" stroke-width="1.5"/><line x1="437.3" y1="114.9" x2="433.1" y2="112.1" stroke="#5cc8d0" stroke-width="1.5"/><line x1="433.1" y1="112.1" x2="428.8" y2="109.2" stroke="#f2dc2a" stroke-width="1.5"/><line x1="437.3" y1="114.9" x2="442.1" y2="112.1" stroke="#5cc8d0" stroke-width="1.5"/><line x1="442.1" y1="112.1" x2="447.0" y2="109.2" stroke="#f0a418" stroke-width="1.5"/><line x1="437.3" y1="114.9" x2="433.1" y2="120.1" stroke="#5cc8d0" stroke-width="1.5"/><line x1="433.1" y1="120.1" x2="428.8" y2="125.3" stroke="#f2dc2a" stroke-width="1.5"/><line x1="437.3" y1="114.9" x2="442.1" y2="120.1" stroke="#5cc8d0" stroke-width="1.5"/><line x1="442.1" y1="120.1" x2="447.0" y2="125.3" stroke="#f0a418" stroke-width="1.5"/><line x1="437.3" y1="130.9" x2="433.1" y2="128.1" stroke="#5cc8d0" stroke-width="1.5"/><line x1="433.1" y1="128.1" x2="428.8" y2="125.3" stroke="#f2dc2a" stroke-width="1.5"/><line x1="437.3" y1="130.9" x2="442.1" y2="128.1" stroke="#5cc8d0" stroke-width="1.5"/><line x1="442.1" y1="128.1" x2="447.0" y2="125.3" stroke="#f0a418" stroke-width="1.5"/><line x1="428.8" y1="61.0" x2="432.0" y2="56.4" stroke="#f2dc2a" stroke-width="1.4"/><line x1="447.0" y1="61.0" x2="443.8" y2="56.4" stroke="#f0a418" stroke-width="1.4"/><line x1="428.8" y1="77.1" x2="432.0" y2="72.5" stroke="#f2dc2a" stroke-width="1.4"/><line x1="447.0" y1="77.1" x2="443.8" y2="72.5" stroke="#f0a418" stroke-width="1.4"/><line x1="428.8" y1="61.0" x2="430.5" y2="62.2" stroke="#f2dc2a" stroke-width="1.3"/><line x1="430.5" y1="62.2" x2="432.2" y2="63.5" stroke="#5cc8d0" stroke-width="1.3"/><line x1="447.0" y1="61.0" x2="445.3" y2="62.2" stroke="#f0a418" stroke-width="1.3"/><line x1="445.3" y1="62.2" x2="443.6" y2="63.5" stroke="#5cc8d0" stroke-width="1.3"/><line x1="437.3" y1="147.0" x2="432.8" y2="143.5" stroke="#5cc8d0" stroke-width="1.3"/><line x1="437.3" y1="147.0" x2="441.8" y2="143.5" stroke="#5cc8d0" stroke-width="1.3"/><line x1="437.3" y1="147.0" x2="432.8" y2="150.5" stroke="#5cc8d0" stroke-width="1.3"/><line x1="437.3" y1="147.0" x2="441.8" y2="150.5" stroke="#5cc8d0" stroke-width="1.3"/><circle cx="428.8" cy="61.0" r="2.6" fill="url(#gY)"/><circle cx="447.0" cy="61.0" r="2.6" fill="url(#gO)"/><circle cx="428.8" cy="77.1" r="2.6" fill="url(#gY)"/><circle cx="447.0" cy="77.1" r="2.6" fill="url(#gO)"/><circle cx="428.8" cy="93.1" r="2.6" fill="url(#gY)"/><circle cx="447.0" cy="93.1" r="2.6" fill="url(#gO)"/><circle cx="428.8" cy="109.2" r="2.6" fill="url(#gY)"/><circle cx="447.0" cy="109.2" r="2.6" fill="url(#gO)"/><circle cx="428.8" cy="125.3" r="2.6" fill="url(#gY)"/><circle cx="447.0" cy="125.3" r="2.6" fill="url(#gO)"/><circle cx="437.3" cy="82.8" r="2.4" fill="url(#gT)"/><circle cx="437.3" cy="98.9" r="2.4" fill="url(#gT)"/><circle cx="437.3" cy="114.9" r="2.4" fill="url(#gT)"/><circle cx="437.3" cy="130.9" r="2.4" fill="url(#gT)"/><circle cx="437.3" cy="147.0" r="2.4" fill="url(#gT)"/><line x1="466.5" y1="74.8" x2="466.5" y2="150.7" stroke="#8aa0e0" stroke-width="1.2"/><circle cx="466.5" cy="79.4" r="2.2" fill="url(#gC)"/><circle cx="466.5" cy="74.8" r="2.4" fill="url(#gB)"/><circle cx="466.5" cy="91.5" r="2.2" fill="url(#gC)"/><circle cx="466.5" cy="86.9" r="2.4" fill="url(#gB)"/><circle cx="466.5" cy="103.5" r="2.2" fill="url(#gC)"/><circle cx="466.5" cy="98.9" r="2.4" fill="url(#gB)"/><circle cx="466.5" cy="115.5" r="2.2" fill="url(#gC)"/><circle cx="466.5" cy="111.0" r="2.4" fill="url(#gB)"/><circle cx="466.5" cy="127.6" r="2.2" fill="url(#gC)"/><circle cx="466.5" cy="123.0" r="2.4" fill="url(#gB)"/><circle cx="466.5" cy="139.7" r="2.2" fill="url(#gC)"/><circle cx="466.5" cy="135.1" r="2.4" fill="url(#gB)"/><circle cx="466.5" cy="151.7" r="2.2" fill="url(#gC)"/><circle cx="466.5" cy="147.1" r="2.4" fill="url(#gB)"/>
<path d="M333.20,55.00 C344.33,55.00 387.55,54.97 400.00,55.00 C412.45,55.03 405.25,54.45 407.90,55.20 C410.55,55.95 413.90,57.72 415.90,59.50 C417.90,61.28 418.70,62.42 419.90,65.90 C421.10,69.38 422.17,75.05 423.10,80.40 C424.03,85.75 424.82,92.65 425.50,98.00 C426.18,103.35 426.70,106.82 427.20,112.50 C427.70,118.18 428.12,128.08 428.50,132.10 C428.88,136.12 429.10,137.27 429.50,136.60 C429.90,135.93 430.53,130.85 430.90,128.10 C431.27,125.35 431.37,121.83 431.70,120.10 C432.03,118.37 432.43,116.37 432.90,117.70 C433.37,119.03 434.03,124.35 434.50,128.10 C434.97,131.85 435.17,129.22 435.70,140.20 C436.23,151.18 436.97,192.70 437.70,194.00 C438.43,195.30 439.57,158.32 440.10,148.00 C440.63,137.68 440.63,136.75 440.90,132.10 C441.17,127.45 441.37,123.12 441.70,120.10 C442.03,117.08 442.35,113.33 442.90,114.00 C443.45,114.67 444.38,120.40 445.00,124.10 C445.62,127.80 446.13,132.85 446.60,136.20 C447.07,139.55 447.33,144.88 447.80,144.20 C448.27,143.52 449.00,136.12 449.40,132.10 C449.80,128.08 449.77,126.28 450.20,120.10 C450.63,113.92 451.28,102.35 452.00,95.00 C452.72,87.65 453.53,80.18 454.50,76.00 C455.47,71.82 456.72,69.90 457.80,69.90 C458.88,69.90 460.05,70.98 461.00,76.00 C461.95,81.02 462.75,87.67 463.50,100.00 C464.25,112.33 465.03,137.37 465.50,150.00 C465.97,162.63 465.88,175.80 466.30,175.80 C466.72,175.80 467.30,158.48 468.00,150.00 C468.70,141.52 469.82,134.35 470.50,124.90 C471.18,115.45 471.43,102.60 472.10,93.30 C472.77,84.00 473.03,74.57 474.50,69.10 C475.97,63.63 478.82,62.47 480.90,60.50 C482.98,58.53 485.15,58.00 487.00,57.30 C488.85,56.60 486.50,56.47 492.00,56.30 C497.50,56.13 508.47,56.30 520.00,56.30 C531.53,56.30 554.33,56.30 561.20,56.30" fill="none" stroke="#1a1a8e" stroke-width="1.5"/>
<line x1="450.6" y1="179.2" x2="450.6" y2="190.5" stroke="#f01010" stroke-width="2.3"/>
<path d="M450.6,176.6 l-2.8,4.5 h5.6 z M450.6,193.1 l-2.8,-4.5 h5.6 z" fill="#f01010"/>
<text x="457.6" y="188.9" font-family="Liberation Serif" font-weight="bold" stroke="#000" stroke-width="0.35" font-size="11.6">ΔV = 5.88 eV</text>
<line x1="333.2" y1="25.90" x2="337.2" y2="25.90" stroke="#111" stroke-width="1.2"/>
<line x1="557.2" y1="25.90" x2="561.2" y2="25.90" stroke="#111" stroke-width="1.2"/>
<line x1="333.2" y1="40.31" x2="335.4" y2="40.31" stroke="#111" stroke-width="1.2"/>
<line x1="559.0" y1="40.31" x2="561.2" y2="40.31" stroke="#111" stroke-width="1.2"/>
<line x1="333.2" y1="54.72" x2="337.2" y2="54.72" stroke="#111" stroke-width="1.2"/>
<line x1="557.2" y1="54.72" x2="561.2" y2="54.72" stroke="#111" stroke-width="1.2"/>
<line x1="333.2" y1="69.12" x2="335.4" y2="69.12" stroke="#111" stroke-width="1.2"/>
<line x1="559.0" y1="69.12" x2="561.2" y2="69.12" stroke="#111" stroke-width="1.2"/>
<line x1="333.2" y1="83.53" x2="337.2" y2="83.53" stroke="#111" stroke-width="1.2"/>
<line x1="557.2" y1="83.53" x2="561.2" y2="83.53" stroke="#111" stroke-width="1.2"/>
<line x1="333.2" y1="97.94" x2="335.4" y2="97.94" stroke="#111" stroke-width="1.2"/>
<line x1="559.0" y1="97.94" x2="561.2" y2="97.94" stroke="#111" stroke-width="1.2"/>
<line x1="333.2" y1="112.35" x2="337.2" y2="112.35" stroke="#111" stroke-width="1.2"/>
<line x1="557.2" y1="112.35" x2="561.2" y2="112.35" stroke="#111" stroke-width="1.2"/>
<line x1="333.2" y1="126.75" x2="335.4" y2="126.75" stroke="#111" stroke-width="1.2"/>
<line x1="559.0" y1="126.75" x2="561.2" y2="126.75" stroke="#111" stroke-width="1.2"/>
<line x1="333.2" y1="141.16" x2="337.2" y2="141.16" stroke="#111" stroke-width="1.2"/>
<line x1="557.2" y1="141.16" x2="561.2" y2="141.16" stroke="#111" stroke-width="1.2"/>
<line x1="333.2" y1="155.57" x2="335.4" y2="155.57" stroke="#111" stroke-width="1.2"/>
<line x1="559.0" y1="155.57" x2="561.2" y2="155.57" stroke="#111" stroke-width="1.2"/>
<line x1="333.2" y1="169.98" x2="337.2" y2="169.98" stroke="#111" stroke-width="1.2"/>
<line x1="557.2" y1="169.98" x2="561.2" y2="169.98" stroke="#111" stroke-width="1.2"/>
<line x1="333.2" y1="184.38" x2="335.4" y2="184.38" stroke="#111" stroke-width="1.2"/>
<line x1="559.0" y1="184.38" x2="561.2" y2="184.38" stroke="#111" stroke-width="1.2"/>
<line x1="333.2" y1="198.79" x2="337.2" y2="198.79" stroke="#111" stroke-width="1.2"/>
<line x1="557.2" y1="198.79" x2="561.2" y2="198.79" stroke="#111" stroke-width="1.2"/>
<line x1="333.2" y1="213.20" x2="335.4" y2="213.20" stroke="#111" stroke-width="1.2"/>
<line x1="559.0" y1="213.20" x2="561.2" y2="213.20" stroke="#111" stroke-width="1.2"/>
<line x1="333.20" y1="213.2" x2="333.20" y2="209.2" stroke="#111" stroke-width="1.2"/>
<line x1="333.20" y1="25.9" x2="333.20" y2="29.9" stroke="#111" stroke-width="1.2"/>
<line x1="361.70" y1="213.2" x2="361.70" y2="211.0" stroke="#111" stroke-width="1.2"/>
<line x1="361.70" y1="25.9" x2="361.70" y2="28.1" stroke="#111" stroke-width="1.2"/>
<line x1="390.20" y1="213.2" x2="390.20" y2="209.2" stroke="#111" stroke-width="1.2"/>
<line x1="390.20" y1="25.9" x2="390.20" y2="29.9" stroke="#111" stroke-width="1.2"/>
<line x1="418.70" y1="213.2" x2="418.70" y2="211.0" stroke="#111" stroke-width="1.2"/>
<line x1="418.70" y1="25.9" x2="418.70" y2="28.1" stroke="#111" stroke-width="1.2"/>
<line x1="447.20" y1="213.2" x2="447.20" y2="209.2" stroke="#111" stroke-width="1.2"/>
<line x1="447.20" y1="25.9" x2="447.20" y2="29.9" stroke="#111" stroke-width="1.2"/>
<line x1="475.70" y1="213.2" x2="475.70" y2="211.0" stroke="#111" stroke-width="1.2"/>
<line x1="475.70" y1="25.9" x2="475.70" y2="28.1" stroke="#111" stroke-width="1.2"/>
<line x1="504.20" y1="213.2" x2="504.20" y2="209.2" stroke="#111" stroke-width="1.2"/>
<line x1="504.20" y1="25.9" x2="504.20" y2="29.9" stroke="#111" stroke-width="1.2"/>
<line x1="532.70" y1="213.2" x2="532.70" y2="211.0" stroke="#111" stroke-width="1.2"/>
<line x1="532.70" y1="25.9" x2="532.70" y2="28.1" stroke="#111" stroke-width="1.2"/>
<line x1="561.20" y1="213.2" x2="561.20" y2="209.2" stroke="#111" stroke-width="1.2"/>
<line x1="561.20" y1="25.9" x2="561.20" y2="29.9" stroke="#111" stroke-width="1.2"/>
<rect x="333.2" y="25.9" width="228.0" height="187.3" fill="none" stroke="#111" stroke-width="1.5"/>
<text x="329.8" y="30.20" font-family="Liberation Serif" font-weight="bold" stroke="#000" stroke-width="0.35" font-size="12.3" text-anchor="end">10</text>
<text x="329.8" y="59.02" font-family="Liberation Serif" font-weight="bold" stroke="#000" stroke-width="0.35" font-size="12.3" text-anchor="end">0</text>
<text x="329.8" y="87.83" font-family="Liberation Serif" font-weight="bold" stroke="#000" stroke-width="0.35" font-size="12.3" text-anchor="end">-10</text>
<text x="329.8" y="116.65" font-family="Liberation Serif" font-weight="bold" stroke="#000" stroke-width="0.35" font-size="12.3" text-anchor="end">-20</text>
<text x="329.8" y="145.46" font-family="Liberation Serif" font-weight="bold" stroke="#000" stroke-width="0.35" font-size="12.3" text-anchor="end">-30</text>
<text x="329.8" y="174.28" font-family="Liberation Serif" font-weight="bold" stroke="#000" stroke-width="0.35" font-size="12.3" text-anchor="end">-40</text>
<text x="329.8" y="203.09" font-family="Liberation Serif" font-weight="bold" stroke="#000" stroke-width="0.35" font-size="12.3" text-anchor="end">-50</text>
<text x="333.20" y="226.8" font-family="Liberation Serif" font-weight="bold" stroke="#000" stroke-width="0.35" font-size="12.3" text-anchor="middle">0</text>
<text x="390.20" y="226.8" font-family="Liberation Serif" font-weight="bold" stroke="#000" stroke-width="0.35" font-size="12.3" text-anchor="middle">10</text>
<text x="447.20" y="226.8" font-family="Liberation Serif" font-weight="bold" stroke="#000" stroke-width="0.35" font-size="12.3" text-anchor="middle">20</text>
<text x="504.20" y="226.8" font-family="Liberation Serif" font-weight="bold" stroke="#000" stroke-width="0.35" font-size="12.3" text-anchor="middle">30</text>
<text x="561.20" y="226.8" font-family="Liberation Serif" font-weight="bold" stroke="#000" stroke-width="0.35" font-size="12.3" text-anchor="middle">40</text>
<text x="447" y="240.7" font-family="Liberation Serif" font-weight="bold" stroke="#000" stroke-width="0.35" font-size="12.3" text-anchor="middle">Length (Å)</text>
<text transform="translate(309.0,119.0) rotate(-90)" font-family="Liberation Serif" font-weight="bold" stroke="#000" stroke-width="0.35" font-size="12.3" text-anchor="middle">Potential energy (eV)</text>
<text x="332.7" y="20.6" font-family="Liberation Serif" font-weight="bold" stroke="#000" stroke-width="0.35" font-size="17.8">(c)</text>
<rect x="343.8" y="29.5" width="65.8" height="18.8" fill="#fff" stroke="#555" stroke-width="1.3"/>
<text x="346.3" y="41.7" font-family="Liberation Serif" font-weight="bold" stroke="#000" stroke-width="0.35" font-size="11.5">MoSSe-C<tspan font-size="7.5" dy="2.6">3</tspan><tspan dy="-2.6">N</tspan><tspan font-size="7.5" dy="2.6">4</tspan></text>
<line x1="333.2" y1="421.60" x2="561.2" y2="421.60" stroke="#f01818" stroke-width="1.7" stroke-dasharray="6.5,5.1"/>
<line x1="333.2" y1="438.80" x2="561.2" y2="438.80" stroke="#f01818" stroke-width="1.7" stroke-dasharray="6.5,5.1"/>
<line x1="457.0" y1="328.2" x2="452.8" y2="325.4" stroke="#5cc8d0" stroke-width="1.5"/><line x1="452.8" y1="325.4" x2="448.5" y2="322.5" stroke="#f2dc2a" stroke-width="1.5"/><line x1="457.0" y1="328.2" x2="461.9" y2="325.4" stroke="#5cc8d0" stroke-width="1.5"/><line x1="461.9" y1="325.4" x2="466.7" y2="322.5" stroke="#f0a418" stroke-width="1.5"/><line x1="457.0" y1="328.2" x2="452.8" y2="333.4" stroke="#5cc8d0" stroke-width="1.5"/><line x1="452.8" y1="333.4" x2="448.5" y2="338.5" stroke="#f2dc2a" stroke-width="1.5"/><line x1="457.0" y1="328.2" x2="461.9" y2="333.4" stroke="#5cc8d0" stroke-width="1.5"/><line x1="461.9" y1="333.4" x2="466.7" y2="338.5" stroke="#f0a418" stroke-width="1.5"/><line x1="457.0" y1="344.3" x2="452.8" y2="341.4" stroke="#5cc8d0" stroke-width="1.5"/><line x1="452.8" y1="341.4" x2="448.5" y2="338.5" stroke="#f2dc2a" stroke-width="1.5"/><line x1="457.0" y1="344.3" x2="461.9" y2="341.4" stroke="#5cc8d0" stroke-width="1.5"/><line x1="461.9" y1="341.4" x2="466.7" y2="338.5" stroke="#f0a418" stroke-width="1.5"/><line x1="457.0" y1="344.3" x2="452.8" y2="349.5" stroke="#5cc8d0" stroke-width="1.5"/><line x1="452.8" y1="349.5" x2="448.5" y2="354.6" stroke="#f2dc2a" stroke-width="1.5"/><line x1="457.0" y1="344.3" x2="461.9" y2="349.5" stroke="#5cc8d0" stroke-width="1.5"/><line x1="461.9" y1="349.5" x2="466.7" y2="354.6" stroke="#f0a418" stroke-width="1.5"/><line x1="457.0" y1="360.3" x2="452.8" y2="357.5" stroke="#5cc8d0" stroke-width="1.5"/><line x1="452.8" y1="357.5" x2="448.5" y2="354.6" stroke="#f2dc2a" stroke-width="1.5"/><line x1="457.0" y1="360.3" x2="461.9" y2="357.5" stroke="#5cc8d0" stroke-width="1.5"/><line x1="461.9" y1="357.5" x2="466.7" y2="354.6" stroke="#f0a418" stroke-width="1.5"/><line x1="457.0" y1="360.3" x2="452.8" y2="365.5" stroke="#5cc8d0" stroke-width="1.5"/><line x1="452.8" y1="365.5" x2="448.5" y2="370.7" stroke="#f2dc2a" stroke-width="1.5"/><line x1="457.0" y1="360.3" x2="461.9" y2="365.5" stroke="#5cc8d0" stroke-width="1.5"/><line x1="461.9" y1="365.5" x2="466.7" y2="370.7" stroke="#f0a418" stroke-width="1.5"/><line x1="457.0" y1="376.3" x2="452.8" y2="373.5" stroke="#5cc8d0" stroke-width="1.5"/><line x1="452.8" y1="373.5" x2="448.5" y2="370.7" stroke="#f2dc2a" stroke-width="1.5"/><line x1="457.0" y1="376.3" x2="461.9" y2="373.5" stroke="#5cc8d0" stroke-width="1.5"/><line x1="461.9" y1="373.5" x2="466.7" y2="370.7" stroke="#f0a418" stroke-width="1.5"/><line x1="448.5" y1="306.4" x2="451.7" y2="301.8" stroke="#f2dc2a" stroke-width="1.4"/><line x1="466.7" y1="306.4" x2="463.5" y2="301.8" stroke="#f0a418" stroke-width="1.4"/><line x1="448.5" y1="322.5" x2="451.7" y2="317.9" stroke="#f2dc2a" stroke-width="1.4"/><line x1="466.7" y1="322.5" x2="463.5" y2="317.9" stroke="#f0a418" stroke-width="1.4"/><line x1="448.5" y1="306.4" x2="450.2" y2="307.7" stroke="#f2dc2a" stroke-width="1.3"/><line x1="450.2" y1="307.7" x2="451.9" y2="308.9" stroke="#5cc8d0" stroke-width="1.3"/><line x1="466.7" y1="306.4" x2="465.0" y2="307.7" stroke="#f0a418" stroke-width="1.3"/><line x1="465.0" y1="307.7" x2="463.3" y2="308.9" stroke="#5cc8d0" stroke-width="1.3"/><line x1="457.0" y1="392.4" x2="452.5" y2="388.9" stroke="#5cc8d0" stroke-width="1.3"/><line x1="457.0" y1="392.4" x2="461.5" y2="388.9" stroke="#5cc8d0" stroke-width="1.3"/><line x1="457.0" y1="392.4" x2="452.5" y2="395.9" stroke="#5cc8d0" stroke-width="1.3"/><line x1="457.0" y1="392.4" x2="461.5" y2="395.9" stroke="#5cc8d0" stroke-width="1.3"/><circle cx="448.5" cy="306.4" r="2.6" fill="url(#gY)"/><circle cx="466.7" cy="306.4" r="2.6" fill="url(#gO)"/><circle cx="448.5" cy="322.5" r="2.6" fill="url(#gY)"/><circle cx="466.7" cy="322.5" r="2.6" fill="url(#gO)"/><circle cx="448.5" cy="338.5" r="2.6" fill="url(#gY)"/><circle cx="466.7" cy="338.5" r="2.6" fill="url(#gO)"/><circle cx="448.5" cy="354.6" r="2.6" fill="url(#gY)"/><circle cx="466.7" cy="354.6" r="2.6" fill="url(#gO)"/><circle cx="448.5" cy="370.7" r="2.6" fill="url(#gY)"/><circle cx="466.7" cy="370.7" r="2.6" fill="url(#gO)"/><circle cx="457.0" cy="328.2" r="2.4" fill="url(#gT)"/><circle cx="457.0" cy="344.3" r="2.4" fill="url(#gT)"/><circle cx="457.0" cy="360.3" r="2.4" fill="url(#gT)"/><circle cx="457.0" cy="376.3" r="2.4" fill="url(#gT)"/><circle cx="457.0" cy="392.4" r="2.4" fill="url(#gT)"/><line x1="429.0" y1="320.2" x2="429.0" y2="396.1" stroke="#8aa0e0" stroke-width="1.2"/><circle cx="429.0" cy="324.8" r="2.2" fill="url(#gC)"/><circle cx="429.0" cy="320.2" r="2.4" fill="url(#gB)"/><circle cx="429.0" cy="336.9" r="2.2" fill="url(#gC)"/><circle cx="429.0" cy="332.3" r="2.4" fill="url(#gB)"/><circle cx="429.0" cy="348.9" r="2.2" fill="url(#gC)"/><circle cx="429.0" cy="344.3" r="2.4" fill="url(#gB)"/><circle cx="429.0" cy="361.0" r="2.2" fill="url(#gC)"/><circle cx="429.0" cy="356.4" r="2.4" fill="url(#gB)"/><circle cx="429.0" cy="373.0" r="2.2" fill="url(#gC)"/><circle cx="429.0" cy="368.4" r="2.4" fill="url(#gB)"/><circle cx="429.0" cy="385.1" r="2.2" fill="url(#gC)"/><circle cx="429.0" cy="380.5" r="2.4" fill="url(#gB)"/><circle cx="429.0" cy="397.1" r="2.2" fill="url(#gC)"/><circle cx="429.0" cy="392.5" r="2.4" fill="url(#gB)"/>
<path d="M333.20,300.00 C343.50,300.00 383.32,300.00 395.00,300.00 C406.68,300.00 399.63,298.72 403.30,300.00 C406.97,301.28 413.92,304.82 417.00,307.70 C420.08,310.58 420.60,312.20 421.80,317.30 C423.00,322.40 423.40,329.52 424.20,338.30 C425.00,347.08 425.80,356.30 426.60,370.00 C427.40,383.70 428.18,420.50 429.00,420.50 C429.82,420.50 430.82,385.58 431.50,370.00 C432.18,354.42 432.43,336.05 433.10,327.00 C433.77,317.95 434.57,318.12 435.50,315.70 C436.43,313.28 437.62,312.12 438.70,312.50 C439.78,312.88 440.95,312.58 442.00,318.00 C443.05,323.42 444.07,334.38 445.00,345.00 C445.93,355.62 446.63,378.53 447.60,381.70 C448.57,384.87 449.82,361.78 450.80,364.00 C451.78,366.22 452.58,382.33 453.50,395.00 C454.42,407.67 455.38,440.00 456.30,440.00 C457.22,440.00 458.10,408.20 459.00,395.00 C459.90,381.80 460.78,365.30 461.70,360.80 C462.62,356.30 463.57,364.55 464.50,368.00 C465.43,371.45 466.50,381.83 467.30,381.50 C468.10,381.17 468.65,373.25 469.30,366.00 C469.95,358.75 470.58,346.00 471.20,338.00 C471.82,330.00 472.37,322.75 473.00,318.00 C473.63,313.25 474.00,311.70 475.00,309.50 C476.00,307.30 477.50,306.00 479.00,304.80 C480.50,303.60 482.33,302.87 484.00,302.30 C485.67,301.73 483.00,301.55 489.00,301.40 C495.00,301.25 507.97,301.40 520.00,301.40 C532.03,301.40 554.33,301.40 561.20,301.40" fill="none" stroke="#f39322" stroke-width="1.5"/>
<line x1="472.8" y1="424.6" x2="472.8" y2="435.8" stroke="#f01010" stroke-width="2.3"/>
<path d="M472.8,422.0 l-2.8,4.5 h5.6 z M472.8,438.4 l-2.8,-4.5 h5.6 z" fill="#f01010"/>
<text x="482.0" y="435.1" font-family="Liberation Serif" font-weight="bold" stroke="#000" stroke-width="0.35" font-size="11.6">ΔV = 6.71 eV</text>
<line x1="333.2" y1="271.30" x2="337.2" y2="271.30" stroke="#111" stroke-width="1.2"/>
<line x1="557.2" y1="271.30" x2="561.2" y2="271.30" stroke="#111" stroke-width="1.2"/>
<line x1="333.2" y1="285.65" x2="335.4" y2="285.65" stroke="#111" stroke-width="1.2"/>
<line x1="559.0" y1="285.65" x2="561.2" y2="285.65" stroke="#111" stroke-width="1.2"/>
<line x1="333.2" y1="300.01" x2="337.2" y2="300.01" stroke="#111" stroke-width="1.2"/>
<line x1="557.2" y1="300.01" x2="561.2" y2="300.01" stroke="#111" stroke-width="1.2"/>
<line x1="333.2" y1="314.36" x2="335.4" y2="314.36" stroke="#111" stroke-width="1.2"/>
<line x1="559.0" y1="314.36" x2="561.2" y2="314.36" stroke="#111" stroke-width="1.2"/>
<line x1="333.2" y1="328.72" x2="337.2" y2="328.72" stroke="#111" stroke-width="1.2"/>
<line x1="557.2" y1="328.72" x2="561.2" y2="328.72" stroke="#111" stroke-width="1.2"/>
<line x1="333.2" y1="343.07" x2="335.4" y2="343.07" stroke="#111" stroke-width="1.2"/>
<line x1="559.0" y1="343.07" x2="561.2" y2="343.07" stroke="#111" stroke-width="1.2"/>
<line x1="333.2" y1="357.42" x2="337.2" y2="357.42" stroke="#111" stroke-width="1.2"/>
<line x1="557.2" y1="357.42" x2="561.2" y2="357.42" stroke="#111" stroke-width="1.2"/>
<line x1="333.2" y1="371.78" x2="335.4" y2="371.78" stroke="#111" stroke-width="1.2"/>
<line x1="559.0" y1="371.78" x2="561.2" y2="371.78" stroke="#111" stroke-width="1.2"/>
<line x1="333.2" y1="386.13" x2="337.2" y2="386.13" stroke="#111" stroke-width="1.2"/>
<line x1="557.2" y1="386.13" x2="561.2" y2="386.13" stroke="#111" stroke-width="1.2"/>
<line x1="333.2" y1="400.48" x2="335.4" y2="400.48" stroke="#111" stroke-width="1.2"/>
<line x1="559.0" y1="400.48" x2="561.2" y2="400.48" stroke="#111" stroke-width="1.2"/>
<line x1="333.2" y1="414.84" x2="337.2" y2="414.84" stroke="#111" stroke-width="1.2"/>
<line x1="557.2" y1="414.84" x2="561.2" y2="414.84" stroke="#111" stroke-width="1.2"/>
<line x1="333.2" y1="429.19" x2="335.4" y2="429.19" stroke="#111" stroke-width="1.2"/>
<line x1="559.0" y1="429.19" x2="561.2" y2="429.19" stroke="#111" stroke-width="1.2"/>
<line x1="333.2" y1="443.55" x2="337.2" y2="443.55" stroke="#111" stroke-width="1.2"/>
<line x1="557.2" y1="443.55" x2="561.2" y2="443.55" stroke="#111" stroke-width="1.2"/>
<line x1="333.2" y1="457.90" x2="335.4" y2="457.90" stroke="#111" stroke-width="1.2"/>
<line x1="559.0" y1="457.90" x2="561.2" y2="457.90" stroke="#111" stroke-width="1.2"/>
<line x1="333.20" y1="457.9" x2="333.20" y2="453.9" stroke="#111" stroke-width="1.2"/>
<line x1="333.20" y1="271.3" x2="333.20" y2="275.3" stroke="#111" stroke-width="1.2"/>
<line x1="361.70" y1="457.9" x2="361.70" y2="455.7" stroke="#111" stroke-width="1.2"/>
<line x1="361.70" y1="271.3" x2="361.70" y2="273.5" stroke="#111" stroke-width="1.2"/>
<line x1="390.20" y1="457.9" x2="390.20" y2="453.9" stroke="#111" stroke-width="1.2"/>
<line x1="390.20" y1="271.3" x2="390.20" y2="275.3" stroke="#111" stroke-width="1.2"/>
<line x1="418.70" y1="457.9" x2="418.70" y2="455.7" stroke="#111" stroke-width="1.2"/>
<line x1="418.70" y1="271.3" x2="418.70" y2="273.5" stroke="#111" stroke-width="1.2"/>
<line x1="447.20" y1="457.9" x2="447.20" y2="453.9" stroke="#111" stroke-width="1.2"/>
<line x1="447.20" y1="271.3" x2="447.20" y2="275.3" stroke="#111" stroke-width="1.2"/>
<line x1="475.70" y1="457.9" x2="475.70" y2="455.7" stroke="#111" stroke-width="1.2"/>
<line x1="475.70" y1="271.3" x2="475.70" y2="273.5" stroke="#111" stroke-width="1.2"/>
<line x1="504.20" y1="457.9" x2="504.20" y2="453.9" stroke="#111" stroke-width="1.2"/>
<line x1="504.20" y1="271.3" x2="504.20" y2="275.3" stroke="#111" stroke-width="1.2"/>
<line x1="532.70" y1="457.9" x2="532.70" y2="455.7" stroke="#111" stroke-width="1.2"/>
<line x1="532.70" y1="271.3" x2="532.70" y2="273.5" stroke="#111" stroke-width="1.2"/>
<line x1="561.20" y1="457.9" x2="561.20" y2="453.9" stroke="#111" stroke-width="1.2"/>
<line x1="561.20" y1="271.3" x2="561.20" y2="275.3" stroke="#111" stroke-width="1.2"/>
<rect x="333.2" y="271.3" width="228.0" height="186.6" fill="none" stroke="#111" stroke-width="1.5"/>
<text x="329.8" y="275.60" font-family="Liberation Serif" font-weight="bold" stroke="#000" stroke-width="0.35" font-size="12.3" text-anchor="end">10</text>
<text x="329.8" y="304.31" font-family="Liberation Serif" font-weight="bold" stroke="#000" stroke-width="0.35" font-size="12.3" text-anchor="end">0</text>
<text x="329.8" y="333.02" font-family="Liberation Serif" font-weight="bold" stroke="#000" stroke-width="0.35" font-size="12.3" text-anchor="end">-10</text>
<text x="329.8" y="361.72" font-family="Liberation Serif" font-weight="bold" stroke="#000" stroke-width="0.35" font-size="12.3" text-anchor="end">-20</text>
<text x="329.8" y="390.43" font-family="Liberation Serif" font-weight="bold" stroke="#000" stroke-width="0.35" font-size="12.3" text-anchor="end">-30</text>
<text x="329.8" y="419.14" font-family="Liberation Serif" font-weight="bold" stroke="#000" stroke-width="0.35" font-size="12.3" text-anchor="end">-40</text>
<text x="329.8" y="447.85" font-family="Liberation Serif" font-weight="bold" stroke="#000" stroke-width="0.35" font-size="12.3" text-anchor="end">-50</text>
<text x="333.20" y="471.5" font-family="Liberation Serif" font-weight="bold" stroke="#000" stroke-width="0.35" font-size="12.3" text-anchor="middle">0</text>
<text x="390.20" y="471.5" font-family="Liberation Serif" font-weight="bold" stroke="#000" stroke-width="0.35" font-size="12.3" text-anchor="middle">10</text>
<text x="447.20" y="471.5" font-family="Liberation Serif" font-weight="bold" stroke="#000" stroke-width="0.35" font-size="12.3" text-anchor="middle">20</text>
<text x="504.20" y="471.5" font-family="Liberation Serif" font-weight="bold" stroke="#000" stroke-width="0.35" font-size="12.3" text-anchor="middle">30</text>
<text x="561.20" y="471.5" font-family="Liberation Serif" font-weight="bold" stroke="#000" stroke-width="0.35" font-size="12.3" text-anchor="middle">40</text>
<text x="447" y="485.4" font-family="Liberation Serif" font-weight="bold" stroke="#000" stroke-width="0.35" font-size="12.3" text-anchor="middle">Length (Å)</text>
<text transform="translate(309.0,364.1) rotate(-90)" font-family="Liberation Serif" font-weight="bold" stroke="#000" stroke-width="0.35" font-size="12.3" text-anchor="middle">Potential energy (eV)</text>
<text x="332.7" y="266.8" font-family="Liberation Serif" font-weight="bold" stroke="#000" stroke-width="0.35" font-size="17.8">(d)</text>
<rect x="343.8" y="274.9" width="65.8" height="18.8" fill="#fff" stroke="#555" stroke-width="1.3"/>
<text x="346.3" y="287.1" font-family="Liberation Serif" font-weight="bold" stroke="#000" stroke-width="0.35" font-size="11.5">C<tspan font-size="7.5" dy="2.6">3</tspan><tspan dy="-2.6">N</tspan><tspan font-size="7.5" dy="2.6">4</tspan><tspan dy="-2.6">-MoSSe</tspan></text>
</svg></body></html>
